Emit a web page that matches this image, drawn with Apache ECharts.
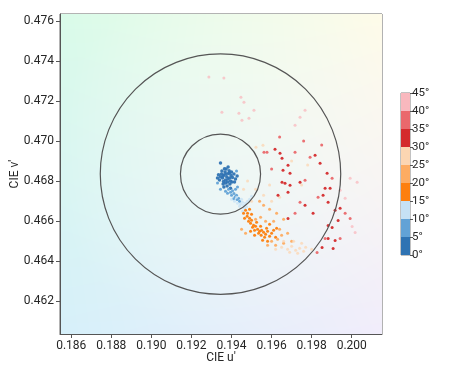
<!DOCTYPE html>
<html>
<head>
<meta charset="utf-8">
<script src="https://cdn.jsdelivr.net/npm/echarts@6/dist/echarts.min.js"></script>
<style>html,body{margin:0;padding:0;background:#fff}#c{width:474px;height:379px}</style>
</head>
<body>
<div id="c"></div>
<script>
// ---------------- data ----------------
const xTicks = [0.186, 0.188, 0.190, 0.192, 0.194, 0.196, 0.198, 0.200];
const yTicks = [0.462, 0.464, 0.466, 0.468, 0.470, 0.472, 0.474, 0.476];
const xRange = [0.18544, 0.20151];
const yRange = [0.46037, 0.47634];

// reference circles: [u, v, radius]
const circles = [[0.19345, 0.46835, 0.006], [0.19345, 0.46835, 0.002]];

// colour-bar bins (degrees)
const binEdges = [0, 5, 10, 15, 20, 25, 30, 35, 40, 45];
const binColors = ['#2f73b3', '#62a2d6', '#c6e1f5', '#fd7f0e', '#fdac62', '#fcd6b2', '#d42a2c', '#ea686c', '#f9b8be'];

// points per angle bin: [u', v']
const pts0_5 = [[0.19376,0.46822],[0.19362,0.46830],[0.19390,0.46815],[0.19370,0.46805],[0.19385,0.46838],[0.19355,0.46815],[0.19398,0.46828],[0.19368,0.46845],[0.19380,0.46795],[0.19350,0.46835],[0.19395,0.46800],[0.19405,0.46818],[0.19360,0.46798],[0.19373,0.46860],[0.19388,0.46852],[0.19345,0.46822],[0.19412,0.46835],[0.19358,0.46785],[0.19392,0.46785],[0.19378,0.46775],[0.19365,0.46862],[0.19340,0.46805],[0.19420,0.46810],[0.19400,0.46845],[0.19383,0.46870],[0.19352,0.46850],[0.19370,0.46790],[0.19402,0.46795],[0.19335,0.46832],[0.19415,0.46795],[0.19345,0.46890],[0.19428,0.46825],[0.19330,0.46815],[0.19362,0.46770],[0.19395,0.46765],[0.19372,0.46835],[0.19382,0.46810],[0.19358,0.46825],[0.19390,0.46842]];
const pts5_10 = [[0.19385,0.46760],[0.19395,0.46745],[0.19405,0.46752],[0.19400,0.46730],[0.19412,0.46738],[0.19418,0.46722],[0.19425,0.46730],[0.19410,0.46712],[0.19428,0.46708],[0.19435,0.46715],[0.19380,0.46740],[0.19420,0.46760],[0.19440,0.46700],[0.19345,0.46760],[0.19430,0.46770],[0.19330,0.46790],[0.19425,0.46850],[0.19370,0.46750]];
const pts10_15 = [[0.19415,0.46700],[0.19430,0.46690],[0.19445,0.46685],[0.19455,0.46695],[0.19440,0.46675],[0.19460,0.46680],[0.19470,0.46690],[0.19450,0.46710],[0.19465,0.46665],[0.19475,0.46672],[0.19425,0.46720],[0.19400,0.46710],[0.19480,0.46700],[0.19490,0.46710],[0.19455,0.46650],[0.19500,0.46725]];
const pts15_20 = [[0.19470,0.46655],[0.19480,0.46640],[0.19478,0.46625],[0.19490,0.46615],[0.19500,0.46605],[0.19495,0.46590],[0.19510,0.46580],[0.19505,0.46570],[0.19520,0.46575],[0.19530,0.46560],[0.19515,0.46555],[0.19540,0.46550],[0.19550,0.46555],[0.19535,0.46540],[0.19560,0.46545],[0.19548,0.46530],[0.19570,0.46535],[0.19580,0.46550],[0.19565,0.46520],[0.19590,0.46525],[0.19485,0.46600],[0.19465,0.46615],[0.19500,0.46635],[0.19525,0.46595],[0.19545,0.46575],[0.19575,0.46565],[0.19600,0.46540],[0.19610,0.46555],[0.19490,0.46660],[0.19460,0.46640],[0.19620,0.46520],[0.19580,0.46500],[0.19555,0.46505],[0.19515,0.46530],[0.19495,0.46550],[0.19590,0.46585],[0.19625,0.46565]];
const pts20_25 = [[0.19600,0.46500],[0.19630,0.46510],[0.19650,0.46530],[0.19620,0.46480],[0.19660,0.46490],[0.19580,0.46480],[0.19640,0.46560],[0.19680,0.46540],[0.19520,0.46610],[0.19545,0.46620],[0.19570,0.46600],[0.19610,0.46600],[0.19450,0.46560],[0.19470,0.46540],[0.19700,0.46500],[0.19560,0.46680],[0.19590,0.46660],[0.19625,0.46640],[0.19540,0.46700],[0.19660,0.46610]];
const pts25_30 = [[0.19650,0.46470],[0.19680,0.46460],[0.19700,0.46475],[0.19720,0.46455],[0.19740,0.46465],[0.19760,0.46450],[0.19690,0.46445],[0.19730,0.46440],[0.19770,0.46470],[0.19620,0.46460],[0.19800,0.46460],[0.19660,0.46500],[0.19710,0.46500],[0.19750,0.46490],[0.19500,0.46700],[0.19520,0.46760],[0.19560,0.46730],[0.19600,0.46700],[0.19480,0.46800],[0.19460,0.46760],[0.19590,0.46780],[0.19640,0.46720],[0.19700,0.46900],[0.19780,0.46880],[0.19750,0.46780],[0.19522,0.46969],[0.19557,0.46979]];
const pts30_35 = [[0.19617,0.46959],[0.19642,0.46939],[0.19652,0.46914],[0.19682,0.46879],[0.19657,0.46854],[0.19692,0.46839],[0.19652,0.46794],[0.19667,0.46789],[0.19692,0.46779],[0.19682,0.46744],[0.19742,0.46794],[0.19817,0.46929],[0.19842,0.46889],[0.19877,0.46839],[0.19867,0.46764],[0.19892,0.46764],[0.19857,0.46729],[0.19882,0.46694],[0.19767,0.46679],[0.19807,0.46639],[0.19917,0.46654],[0.19942,0.46664],[0.19932,0.46604],[0.19882,0.46579],[0.19902,0.46569],[0.19882,0.46514],[0.19917,0.46504],[0.19907,0.46464],[0.19852,0.46469],[0.19682,0.46614],[0.19632,0.46729]];
const pts35_40 = [[0.19767,0.46804],[0.19902,0.46814],[0.19832,0.46719],[0.19742,0.46694],[0.19967,0.46639],[0.19992,0.46614],[0.19867,0.46514],[0.19942,0.46514],[0.19827,0.46444],[0.19717,0.46639],[0.19717,0.46944],[0.19792,0.46919],[0.19562,0.46944],[0.19577,0.46944],[0.19760,0.47000],[0.19640,0.47020],[0.19850,0.46980],[0.19600,0.46860]];
const pts40_45 = [[0.19287,0.47319],[0.19362,0.47314],[0.19352,0.47144],[0.19437,0.47139],[0.19447,0.47219],[0.19462,0.47194],[0.19512,0.47154],[0.19487,0.47114],[0.19452,0.47104],[0.19767,0.47154],[0.19742,0.47119],[0.19717,0.47079],[0.19992,0.46814],[0.20027,0.46794],[0.19942,0.46754],[0.19967,0.46714],[0.20002,0.46574],[0.20017,0.46544]];

const binPoints = [pts0_5, pts5_10, pts10_15, pts15_20, pts20_25, pts25_30, pts30_35, pts35_40, pts40_45];

// ---------------- background texture ----------------
function makeBg(w, h) {
  const cv = document.createElement('canvas');
  cv.width = w; cv.height = h;
  const ctx = cv.getContext('2d');
  const img = ctx.createImageData(w, h);
  const TL = [217, 251, 233], TR = [254, 251, 233], BL = [214, 240, 250], BR = [241, 237, 251];
  for (let y = 0; y < h; y++) {
    const ty = y / (h - 1);
    for (let x = 0; x < w; x++) {
      const tx = x / (w - 1);
      const dx = tx - 0.55, dy = ty - 0.45;
      const wht = Math.max(0, 0.22 * (1 - (dx * dx + dy * dy) * 3));
      const i = (y * w + x) * 4;
      for (let k = 0; k < 3; k++) {
        const top = TL[k] * (1 - tx) + TR[k] * tx;
        const bot = BL[k] * (1 - tx) + BR[k] * tx;
        const c = top * (1 - ty) + bot * ty;
        img.data[i + k] = Math.round(c * (1 - wht) + 255 * wht);
      }
      img.data[i + 3] = 255;
    }
  }
  ctx.putImageData(img, 0, 0);
  return cv;
}
const bg = makeBg(322, 320);

// ---------------- chart ----------------
const chart = echarts.init(document.getElementById('c'), null, {renderer: 'canvas'});
const FONT = 'Roboto';
const txt = '#262626';
const axisCol = '#555';

const scatterSeries = binPoints.map((pts, i) => ({
  type: 'scatter',
  xAxisIndex: 0, yAxisIndex: 0,
  data: pts,
  symbol: 'circle',
  symbolSize: i === 0 ? 3.5 : 3,
  itemStyle: {color: binColors[i], opacity: (i === 2 || i === 5 || i === 8) ? 0.75 : 0.95},
  z: 3,
  silent: true
}));

const barSeries = binColors.map((c, i) => ({
  type: 'bar',
  xAxisIndex: 1, yAxisIndex: 1,
  stack: 'cb',
  barWidth: '100%',
  data: [binEdges[i + 1] - binEdges[i]],
  itemStyle: {color: c},
  silent: true
}));

chart.setOption({
  animation: false,
  grid: [
    {left: 60, top: 14, width: 322, height: 320, outerBoundsMode: 'none', containLabel: false,
      show: true, borderColor: '#666', borderWidth: 1, backgroundColor: 'transparent'},
    {left: 401, top: 93, width: 9, height: 162, outerBoundsMode: 'none', containLabel: false,
      show: true, borderColor: '#666', borderWidth: 0.8, backgroundColor: 'transparent'}
  ],
  xAxis: [
    {type: 'value', gridIndex: 0, min: xRange[0], max: xRange[1],
      name: "CIE u'", nameLocation: 'middle', nameGap: 18, nameMoveOverlap: false,
      nameTextStyle: {fontFamily: FONT, fontSize: 12, color: txt},
      axisLine: {show: true, lineStyle: {color: axisCol, width: 1}},
      axisTick: {show: true, length: 4, customValues: xTicks, lineStyle: {color: axisCol}},
      axisLabel: {customValues: xTicks, fontFamily: FONT, fontSize: 12, color: txt, margin: 6,
        formatter: v => v.toFixed(3)},
      splitLine: {show: false}},
    {type: 'category', gridIndex: 1, data: ['cb'], show: false}
  ],
  yAxis: [
    {type: 'value', gridIndex: 0, min: yRange[0], max: yRange[1],
      name: "CIE v'", nameLocation: 'middle', nameGap: 39, nameRotate: 90, nameMoveOverlap: false,
      nameTextStyle: {fontFamily: FONT, fontSize: 12, color: txt},
      axisLine: {show: true, lineStyle: {color: axisCol, width: 1}},
      axisTick: {show: true, length: 4, customValues: yTicks, lineStyle: {color: axisCol}},
      axisLabel: {customValues: yTicks, fontFamily: FONT, fontSize: 12, color: txt, margin: 6,
        formatter: v => v.toFixed(3)},
      splitLine: {show: false}},
    {type: 'value', gridIndex: 1, min: 0, max: 45, interval: 5, position: 'right',
      axisLine: {show: false},
      axisTick: {show: true, length: 3, lineStyle: {color: axisCol}},
      axisLabel: {fontFamily: FONT, fontSize: 11.5, color: txt, margin: 2, formatter: '{value}°'},
      splitLine: {show: false}}
  ],
  series: [
    {type: 'custom', xAxisIndex: 0, yAxisIndex: 0, silent: true, z: 0, clip: false,
      data: [[xRange[0], yRange[1], xRange[1], yRange[0]]],
      renderItem: function (params, api) {
        const a = api.coord([api.value(0), api.value(1)]);
        const b = api.coord([api.value(2), api.value(3)]);
        return {type: 'image', style: {image: bg, x: a[0], y: a[1], width: b[0] - a[0], height: b[1] - a[1]}};
      }},
    {type: 'custom', xAxisIndex: 0, yAxisIndex: 0, data: circles, silent: true, z: 4, clip: false,
      renderItem: function (params, api) {
        const c = api.coord([api.value(0), api.value(1)]);
        const r = api.size([api.value(2), 0])[0];
        return {type: 'circle', shape: {cx: c[0], cy: c[1], r: r},
          style: {fill: 'none', stroke: '#555', lineWidth: 1.2}};
      }}
  ].concat(scatterSeries, barSeries)
});
</script>
</body>
</html>
